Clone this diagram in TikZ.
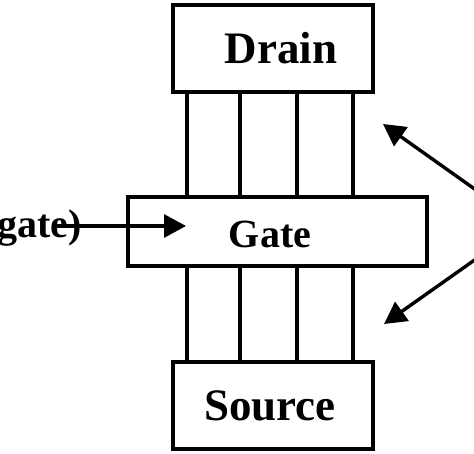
\documentclass[tikz,border=0pt]{standalone}
\usepackage{fontspec}
\setmainfont{Liberation Serif}
\usepackage{tikz}
\usetikzlibrary{arrows.meta, positioning, calc}

\begin{document}
\begin{tikzpicture}[
  x=1pt, y=-1pt,
  box/.style={draw, line width=3.6pt, inner sep=0pt, font=\bfseries\fontsize{45}{50}\selectfont},
  channel/.style={line width=3.6pt},
  arrow/.style={-{Triangle[length=22pt, width=23pt]}, line width=3.4pt},
]
\useasboundingbox (0,0) rectangle (474,454);

% DRAIN
\node[box, minimum width=200pt, minimum height=87pt] (drain) at (273,48.5) {\hspace*{16pt}Drain};

% GATE
\node[box, minimum width=299pt, minimum height=69pt, font=\bfseries\fontsize{40}{44}\selectfont] (gate) at (277.5,231.5) {\raisebox{-16pt}[0pt][0pt]{Gate}\hspace*{15pt}};

% SOURCE
\node[box, minimum width=200pt, minimum height=87pt] (source) at (273,405.5) {Source\hspace*{6pt}};

% CHANNELS
\foreach \x in {187, 240, 297, 353} {
  \draw[channel] (\x,0 |- drain.south) -- (\x,0 |- gate.north);
  \draw[channel] (\x,0 |- gate.south) -- (\x,0 |- source.north);
}

% GATE INPUT
\node[anchor=base east, inner sep=0pt, font=\bfseries\fontsize{40}{44}\selectfont] (gatelbl) at (82,238) {gate)};
\coordinate (gatein) at (55,226);
\draw[arrow] (gatein) -- (186,226);

% SIDE ARROWS
\coordinate (upper) at (476,190);
\coordinate (lower) at (476,259);
\draw[arrow] (upper) -- (383,124);
\draw[arrow] (lower) -- (384,324);

\end{tikzpicture}
\end{document}
